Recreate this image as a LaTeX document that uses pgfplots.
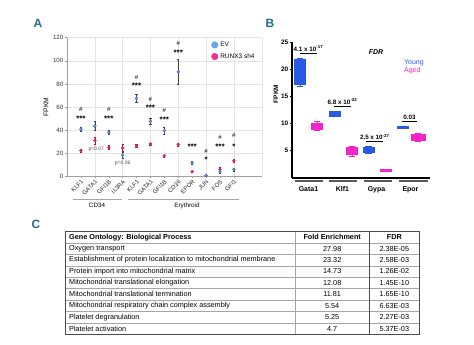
\documentclass[border=0pt]{standalone}
\usepackage{fontspec}
\setmainfont{Liberation Sans}
\usepackage{pgfplots}
\pgfplotsset{compat=1.18}
\usepgfplotslibrary{statistics}
\definecolor{evblue}{RGB}{110,160,225}
\definecolor{evdark}{RGB}{60,110,185}
\definecolor{runred}{RGB}{215,40,100}
\definecolor{legblue}{RGB}{100,170,235}
\definecolor{legpink}{RGB}{240,50,140}
\definecolor{young}{RGB}{40,90,230}
\definecolor{aged}{RGB}{245,35,200}
\definecolor{panel}{RGB}{30,110,140}
\definecolor{gridc}{RGB}{228,228,228}
\newcommand{\fs}[1]{\fontsize{#1}{#1}\selectfont}
\pgfplotstableread{
x y e
1 40.8 1.5
2 43.5 4
3 38 1.5
4 18.2 2.5
5 67.5 3.5
6 47.5 2.5
7 39.7 3
8 90.5 10.5
9 11.9 1
10 0.8 0.3
11 3.8 1
12 5.8 1
}\evdata
\pgfplotstableread{
x y e
1 22.3 1
2 31 3
3 25 1.5
4 24.6 3
5 26.5 1.5
6 28 1
7 17.7 1
8 27.5 1.5
9 4 0.8
10 0.7 0.3
11 6 2
12 13.5 1.5
}\rundata
\begin{document}
\begin{tikzpicture}[x=1bp,y=1bp]
\path[use as bounding box] (0,0) rectangle (474,344);
% panel letters
\node[font=\bfseries\fs{12}, text=panel] at (38,321) {A};
\node[font=\bfseries\fs{12}, text=panel] at (270,321) {B};
\node[font=\bfseries\fs{12}, text=panel] at (36,120) {C};
% ---------------- Panel A
\begin{axis}[
  at={(67bp,167.7bp)}, anchor=south west, scale only axis,
  width=194.7bp, height=138.6bp,
  xmin=0, xmax=14, ymin=0, ymax=120,
  axis lines=left, axis line style={draw=gray!75, -},
  ytick={0,20,...,120}, ymajorgrids, grid style={draw=gridc, line width=0.4pt},
  xtick={1,...,12},
  xticklabels={KLF1,GATA1,GFI1B,IL3RA,KLF1,GATA1,GFI1B,CD36,EPOR,JUN,FOS,GFI1},
  extra x ticks={2,4,...,14}, extra x tick labels={},
  extra x tick style={grid=major, major tick length=0pt},
  tick style={draw=gray!75, line width=0.4pt}, major tick length=2bp, tick align=outside,
  /pgf/number format/assume math mode=true,
  yticklabel style={font=\fs{6.2}, text=black!80, inner sep=1.5pt},
  xticklabel style={rotate=45, anchor=north east, font=\fs{6}, inner sep=0.6pt, text=black!85},
  clip=false,
  legend style={at={(0.74,0.985)}, anchor=north west, draw=none, fill=none, font=\fs{6.5}, inner sep=0pt, row sep=1.5pt},
  legend cell align=left,
]
\addplot[only marks, mark=*, mark size=1.5, color=runred, forget plot,
  error bars/.cd, y dir=both, y explicit,
  error bar style={runred!70!black, line width=0.4pt},
  error mark options={rotate=90, mark size=1.1, line width=0.4pt}]
  table[x=x, y=y, y error=e] {\rundata};
\addplot[only marks, mark=*, mark size=1.5, draw=evdark, fill=evblue, forget plot,
  error bars/.cd, y dir=both, y explicit,
  error bar style={black!75, line width=0.4pt},
  error mark options={rotate=90, mark size=1.1, line width=0.4pt}]
  table[x=x, y=y, y error=e] {\evdata};
\addlegendimage{legend image code/.code={\fill[legblue] (0.1cm,0) circle (3.3bp);}}
\addlegendentry{EV}
\addlegendimage{legend image code/.code={\fill[legpink] (0.1cm,0) circle (3.3bp);}}
\addlegendentry{RUNX3 sh4}
% significance
\tikzset{hs/.style={font=\fs{6.2}, inner sep=0pt}, st/.style={font=\bfseries\fs{8}, inner sep=0pt}}
\node[hs] at (axis cs:1,58) {\#};   \node[st] at (axis cs:1,50) {***};
\node[hs] at (axis cs:3,58) {\#};   \node[st] at (axis cs:3,50) {***};
\node[hs] at (axis cs:5,86) {\#};   \node[st] at (axis cs:5,78) {***};
\node[hs] at (axis cs:6,67) {\#};   \node[st] at (axis cs:6,59) {***};
\node[hs] at (axis cs:7,57) {\#};   \node[st] at (axis cs:7,49) {***};
\node[hs] at (axis cs:8,115) {\#};  \node[st] at (axis cs:8,107) {***};
\node[st] at (axis cs:9,25.5) {***};
\node[hs] at (axis cs:10,22) {\#};  \node[st] at (axis cs:10,14.5) {*};
\node[hs] at (axis cs:11,34) {\#};  \node[st] at (axis cs:11,25.5) {***};
\node[hs] at (axis cs:12,35) {\#};  \node[st] at (axis cs:12,25.5) {*};
\node[font=\fs{5}, text=black!70, inner sep=0pt] at (axis cs:2.1,23.5) {p=0.07};
\node[font=\fs{5}, text=black!70, inner sep=0pt] at (axis cs:4,11.5) {p=0.06};
\end{axis}
\node[font=\fs{6.8}, rotate=90] at (46,237) {FPKM};
\draw[gray!70, line width=0.5pt] (73,144.7) -- (122,144.7);
\draw[gray!70, line width=0.5pt] (128,144.7) -- (239,144.7);
\node[font=\fs{6.3}] at (97,138.5) {CD34};
\node[font=\fs{6.3}] at (187,138.5) {Erythroid};
% ---------------- Panel B
\begin{axis}[
  at={(292bp,166.2bp)}, anchor=south west, scale only axis,
  width=138bp, height=135.5bp,
  xmin=0.515, xmax=4.574, ymin=0, ymax=25,
  axis lines=left, axis line style={line width=1.5pt, -},
  ytick={5,10,...,25},
  /pgf/number format/assume math mode=true,
  yticklabel style={font=\bfseries\fs{6.5}, inner sep=1pt},
  tick align=outside, major tick length=2.5bp,
  y tick style={line width=0.8pt, black},
  xtick={1,2,3,4}, xticklabels={Gata1,Klf1,Gypa,Epor},
  xticklabel style={font=\bfseries\fs{7}, yshift=-3bp},
  x tick style={draw=none},
  clip=false,
  boxplot/draw direction=y,
]
\addplot[draw=young, fill=young, line width=0.5pt, boxplot prepared={draw position=0.75, lower whisker=16.8, lower quartile=17.2, median=19.5, upper quartile=21.8, upper whisker=22.0, box extend=0.32, whisker extend=0.2}] coordinates {};
\addplot[draw=aged, fill=aged, line width=0.5pt, boxplot prepared={draw position=1.25, lower whisker=8.8, lower quartile=9.0, median=9.5, upper quartile=10.05, upper whisker=10.4, box extend=0.32, whisker extend=0.2}] coordinates {};
\addplot[draw=young, fill=young, line width=0.5pt, boxplot prepared={draw position=1.76, lower whisker=11.3, lower quartile=11.4, median=11.8, upper quartile=12.2, upper whisker=12.3, box extend=0.32, whisker extend=0.2}] coordinates {};
\addplot[draw=aged, fill=aged, line width=0.5pt, boxplot prepared={draw position=2.28, lower whisker=3.9, lower quartile=4.3, median=5.0, upper quartile=5.7, upper whisker=5.8, box extend=0.32, whisker extend=0.2}] coordinates {};
\addplot[draw=young, fill=young, line width=0.5pt, boxplot prepared={draw position=2.76, lower whisker=4.5, lower quartile=4.65, median=5.2, upper quartile=5.7, upper whisker=5.8, box extend=0.32, whisker extend=0.2}] coordinates {};
\addplot[draw=aged, fill=aged, line width=0.5pt, boxplot prepared={draw position=3.26, lower whisker=1.2, lower quartile=1.3, median=1.4, upper quartile=1.55, upper whisker=1.6, box extend=0.32, whisker extend=0.2}] coordinates {};
\addplot[draw=young, fill=young, line width=0.5pt, boxplot prepared={draw position=3.76, lower whisker=9.1, lower quartile=9.2, median=9.35, upper quartile=9.5, upper whisker=9.6, box extend=0.32, whisker extend=0.2}] coordinates {};
\addplot[draw=aged, fill=aged, line width=0.5pt, boxplot prepared={draw position=4.22, lower whisker=6.8, lower quartile=6.9, median=7.5, upper quartile=8.1, upper whisker=8.2, box extend=0.4, whisker extend=0.2}] coordinates {};
% brackets
\draw[line width=0.9pt] (axis cs:0.75,23) -- (axis cs:1.25,23);
\node[font=\bfseries\fs{6.3}, anchor=south, inner sep=1pt] at (axis cs:1.0,23.1) {4.1 x 10\textsuperscript{-17}};
\draw[line width=0.9pt] (axis cs:1.75,13.25) -- (axis cs:2.25,13.25);
\node[font=\bfseries\fs{6.3}, anchor=south, inner sep=1pt] at (axis cs:2.0,13.35) {6.8 x 10\textsuperscript{-22}};
\draw[line width=0.9pt] (axis cs:2.7,6.73) -- (axis cs:3.2,6.73);
\node[font=\bfseries\fs{6.3}, anchor=south, inner sep=1pt] at (axis cs:2.95,6.83) {2.5 x 10\textsuperscript{-27}};
\draw[line width=0.9pt] (axis cs:3.75,10.4) -- (axis cs:4.2,10.4);
\node[font=\bfseries\fs{6.3}, anchor=south, inner sep=1pt] at (axis cs:3.97,10.5) {0.03};
\end{axis}
\node[font=\bfseries\fs{6.5}, rotate=90] at (276,250) {FPKM};
\node[font=\bfseries\itshape\fs{7}] at (376,292.3) {FDR};
\node[font=\fs{7}, text=young, anchor=west, inner sep=0pt] at (404,281) {Young};
\node[font=\fs{7}, text=aged, anchor=west, inner sep=0pt] at (404,273) {Aged};
\foreach \a/\b in {295/322.7, 329.3/357.3, 364.3/392.3, 399.3/428.3}
  \draw[black!65, line width=1.2pt] (\a,163) -- (\b,163);
% ---------------- Panel C table
\def\rh{11.42}
\begin{scope}[line width=0.5pt]
\foreach \i in {1,...,8} \draw[gray!70] (65,{344-231.5-\rh*\i}) -- (419.3,{344-231.5-\rh*\i});
\draw[gray!70] (295,112.5) -- (295,{344-231.5-\rh*9});
\draw[black!70] (369.3,112.5) -- (369.3,{344-231.5-\rh*9});
\draw[gray!60!black] (65,112.5) rectangle (419.3,{344-231.5-\rh*9});
\end{scope}
\foreach [count=\i from 0] \t/\f/\d in {
  {\textbf{Gene Ontology: Biological Process}}/{\textbf{Fold Enrichment}}/{\textbf{FDR}},
  Oxygen transport/27.98/2.38E-05,
  Establishment of protein localization to mitochondrial membrane/23.32/2.58E-03,
  Protein import into mitochondrial matrix/14.73/1.26E-02,
  Mitochondrial translational elongation/12.08/1.45E-10,
  Mitochondrial translational termination/11.81/1.65E-10,
  Mitochondrial respiratory chain complex assembly/5.54/6.63E-03,
  Platelet degranulation/5.25/2.27E-03,
  Platelet activation/4.7/5.37E-03}{
  \node[font=\fs{7.3}, anchor=west, inner sep=0pt] at (69,{344-231.5-\rh*(\i+0.5)}) {\t};
  \node[font=\fs{7.3}, inner sep=0pt] at (332.2,{344-231.5-\rh*(\i+0.5)}) {\f};
  \node[font=\fs{7.3}, inner sep=0pt] at (394.3,{344-231.5-\rh*(\i+0.5)}) {\d};
}
\end{tikzpicture}
\end{document}
